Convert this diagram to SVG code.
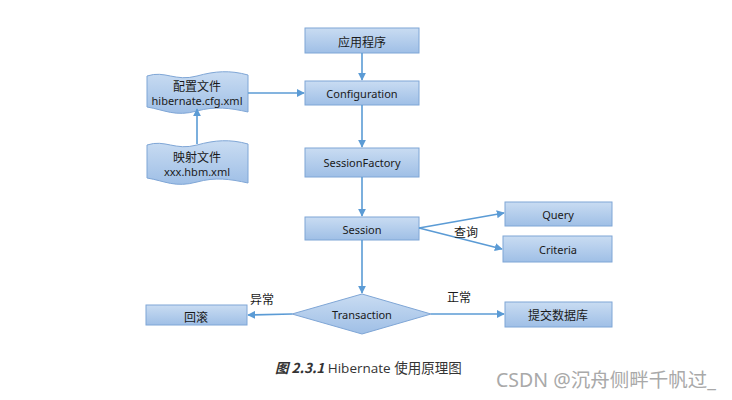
<svg xmlns="http://www.w3.org/2000/svg" width="732" height="400" viewBox="0 0 732 400">
<defs>
<linearGradient id="g" x1="0" y1="0" x2="0" y2="1">
<stop offset="0" stop-color="#c9dcf2"/>
<stop offset="1" stop-color="#9fbfe6"/>
</linearGradient>
<marker id="ah" viewBox="0 0 10 10" refX="9" refY="5" markerWidth="8" markerHeight="8" markerUnits="userSpaceOnUse" orient="auto">
<path d="M0,0 L10,5 L0,10 z" fill="#5b9bd5"/>
</marker>
</defs>
<style>
.box{fill:url(#g);stroke:#7fa6d6;stroke-width:1}
.t{font-family:"Noto Sans","Open Sans","Noto Sans CJK SC",sans-serif;font-size:11px;fill:#1a1a1a;text-anchor:middle;dominant-baseline:central}
.c{font-family:"Noto Sans CJK SC",sans-serif;font-size:12px;fill:#1a1a1a;text-anchor:middle;dominant-baseline:central}
.e{fill:none;stroke:#5b9bd5;stroke-width:1.6;marker-end:url(#ah)}
</style>
<rect width="732" height="400" fill="#ffffff"/>
<g id="app"><rect class="box" x="305" y="28" width="114" height="25"/><text class="c" x="362" y="41">应用程序</text></g>
<g id="configuration"><rect class="box" x="305" y="81" width="114" height="24"/><text class="t" x="362" y="93">Configuration</text></g>
<g id="sessionfactory"><rect class="box" x="305" y="148" width="114" height="29"/><text class="t" x="362" y="162">SessionFactory</text></g>
<g id="session"><rect class="box" x="305" y="217" width="114" height="23"/><text class="t" x="362" y="229">Session</text></g>
<g id="query"><rect class="box" x="505" y="202" width="107" height="24"/><text class="t" x="558" y="214">Query</text></g>
<g id="criteria"><rect class="box" x="503" y="236" width="109" height="26"/><text class="t" x="558" y="249">Criteria</text></g>
<g id="transaction"><polygon class="box" points="362,294 431,314 362,334 292,314"/><text class="t" x="362" y="314">Transaction</text></g>
<g id="commit"><rect class="box" x="505" y="302" width="107" height="25"/><text class="c" x="558" y="314">提交数据库</text></g>
<g id="rollback"><rect class="box" x="146" y="305" width="101" height="20"/><text class="c" x="196" y="316">回滚</text></g>
<g id="cfgdoc"><path class="box" d="M147,76 C165,70 175,82 197,76 C215,71 230,70 248,75 L248,112 C230,108 215,106 197,111 C175,117 165,110 147,107 Z"/><text class="c" x="197" y="85">配置文件</text><text class="t" x="197" y="100">hibernate.cfg.xml</text></g>
<g id="hbmdoc"><path class="box" d="M147,145 C165,139 175,151 197,145 C215,140 230,139 248,144 L248,183 C230,179 215,177 197,182 C175,188 165,181 147,178 Z"/><text class="c" x="197" y="156">映射文件</text><text class="t" x="197" y="171">xxx.hbm.xml</text></g>
<g id="connectors">
<line class="e" x1="362" y1="53" x2="362" y2="80"/>
<line class="e" x1="362" y1="105" x2="362" y2="147"/>
<line class="e" x1="362" y1="177" x2="362" y2="216"/>
<line class="e" x1="362" y1="240" x2="362" y2="293"/>
<line class="e" x1="248" y1="93" x2="304" y2="93"/>
<line class="e" x1="197" y1="144" x2="197" y2="109"/>
<line class="e" x1="419" y1="228" x2="504" y2="213"/>
<line class="e" x1="419" y1="228" x2="502" y2="249"/>
<line class="e" x1="431" y1="314" x2="504" y2="314"/>
<line class="e" x1="292" y1="314" x2="248" y2="315"/>
</g>
<g id="labels">
<text class="c" x="466" y="231">查询</text>
<text class="c" x="459" y="296">正常</text>
<text class="c" x="262" y="298">异常</text>
</g>
<g id="caption">
<text x="275" y="373" font-family="'Open Sans','Noto Sans','Noto Sans CJK SC',sans-serif" font-size="13.5" fill="#333"><tspan font-weight="bold" font-style="italic" font-family="'Noto Sans CJK SC',sans-serif">图 2.3.1</tspan> Hibernate 使用原理图</text>
<text x="496" y="387" font-family="'Noto Sans','Noto Sans CJK SC',sans-serif" font-size="19.5" fill="#a0a0a0" opacity="0.9">CSDN @沉舟侧畔千帆过_</text>
</g>
</svg>
